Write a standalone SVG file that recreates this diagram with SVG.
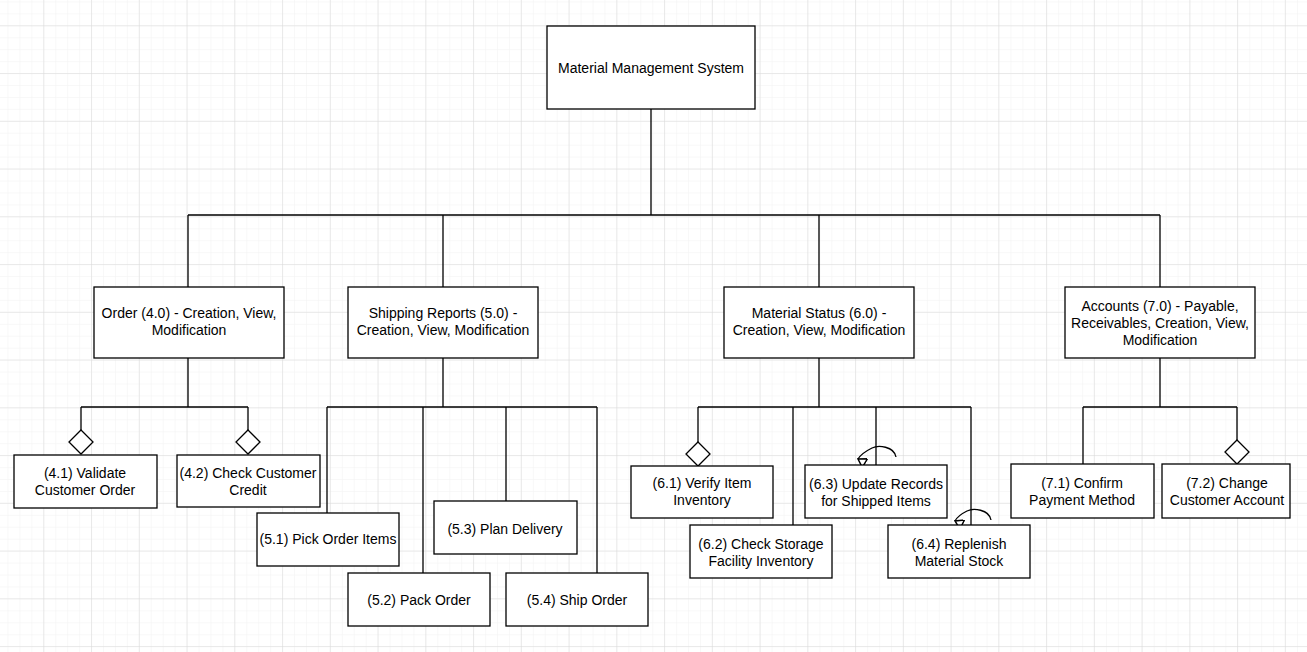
<svg xmlns="http://www.w3.org/2000/svg" width="1307" height="652" viewBox="0 0 1307 652">
<defs>
<pattern id="minor" x="43.3" y="25.3" width="11.94" height="11.94" patternUnits="userSpaceOnUse"><path d="M0 0H11.94M0 0V11.94" fill="none" stroke="#f2f2f2" stroke-width="1"/></pattern>
<pattern id="major" x="43.3" y="25.3" width="47.75" height="47.75" patternUnits="userSpaceOnUse"><path d="M0 0H47.75M0 0V47.75" fill="none" stroke="#d9d9d9" stroke-width="1"/></pattern>
<marker id="tri" viewBox="0 0 10 10" refX="5" refY="9" markerWidth="10" markerHeight="10" orient="auto" markerUnits="userSpaceOnUse"><path d="M0 1L10 1L5 9Z" fill="#fff" stroke="#000" stroke-width="1.5"/></marker>
</defs>
<style>
rect.n{fill:#fff;stroke:#000;stroke-width:1.3}
text{font-family:"Liberation Sans",Arial,sans-serif;font-size:14px;fill:#000;text-anchor:middle}
#connectors path{fill:none;stroke:#000;stroke-width:1.3}
#connectors path.d{fill:#fff}
</style>
<rect width="1307" height="652" fill="#fff"/>
<rect width="1307" height="652" fill="url(#minor)"/>
<rect width="1307" height="652" fill="url(#major)"/>
<g id="connectors">
<path d="M651 109V215M188 215H1160M188 215V287M443 215V287M819 215V287M1160 215V287"/>
<path d="M188 358V407M81 407H248M81 407V430M248 407V430"/>
<path class="d" d="M81 430L93 442L81 454L69 442Z"/>
<path class="d" d="M248 430L260 442L248 454L236 442Z"/>
<path d="M443 358V407M327 407H597M327 407V513M423 407V573M506 407V501M597 407V573"/>
<path d="M819 358V407M698 407H971M698 407V442M793 407V525M876 407V465M971 407V525"/>
<path class="d" d="M698 442L710 454L698 466L686 454Z"/>
<path d="M896 457C894 446 878 445 872 448C866 451 861 454 858 459" marker-end="url(#tri)"/>
<path d="M991 520C989 509 973 508 967 511C961 514 957 517 955 521" marker-end="url(#tri)"/>
<path d="M1160 358V407M1083 407H1237M1083 407V464M1237 407V440"/>
<path class="d" d="M1237 440L1249 452L1237 464L1225 452Z"/>
</g>
<g id="root"><rect class="n" x="547" y="26" width="208" height="83"/><text x="651" y="73">Material Management System</text></g>
<g id="n4"><rect class="n" x="94" y="287" width="190" height="71"/><text x="189" y="318">Order (4.0) - Creation, View,</text><text x="189" y="335">Modification</text></g>
<g id="n5"><rect class="n" x="348" y="287" width="190" height="71"/><text x="443" y="318">Shipping Reports (5.0) -</text><text x="443" y="335">Creation, View, Modification</text></g>
<g id="n6"><rect class="n" x="724" y="287" width="190" height="71"/><text x="819" y="318">Material Status (6.0) -</text><text x="819" y="335">Creation, View, Modification</text></g>
<g id="n7"><rect class="n" x="1065" y="287" width="190" height="71"/><text x="1160" y="311">Accounts (7.0) - Payable,</text><text x="1160" y="328">Receivables, Creation, View,</text><text x="1160" y="345">Modification</text></g>
<g id="n41"><rect class="n" x="14" y="455" width="143" height="53"/><text x="85" y="478">(4.1) Validate</text><text x="85" y="495">Customer Order</text></g>
<g id="n42"><rect class="n" x="177" y="455" width="143" height="52"/><text x="248" y="478">(4.2) Check Customer</text><text x="248" y="495">Credit</text></g>
<g id="n51"><rect class="n" x="257" y="513" width="142" height="53"/><text x="328" y="544">(5.1) Pick Order Items</text></g>
<g id="n52"><rect class="n" x="348" y="573" width="142" height="53"/><text x="419" y="605">(5.2) Pack Order</text></g>
<g id="n53"><rect class="n" x="434" y="501" width="143" height="53"/><text x="505" y="534">(5.3) Plan Delivery</text></g>
<g id="n54"><rect class="n" x="506" y="573" width="142" height="53"/><text x="577" y="605">(5.4) Ship Order</text></g>
<g id="n61"><rect class="n" x="631" y="466" width="142" height="52"/><text x="702" y="488">(6.1) Verify Item</text><text x="702" y="505">Inventory</text></g>
<g id="n62"><rect class="n" x="690" y="525" width="142" height="53"/><text x="761" y="549">(6.2) Check Storage</text><text x="761" y="566">Facility Inventory</text></g>
<g id="n63"><rect class="n" x="805" y="465" width="142" height="53"/><text x="876" y="489">(6.3) Update Records</text><text x="876" y="506">for Shipped Items</text></g>
<g id="n64"><rect class="n" x="888" y="525" width="142" height="53"/><text x="959" y="549">(6.4) Replenish</text><text x="959" y="566">Material Stock</text></g>
<g id="n71"><rect class="n" x="1011" y="464" width="143" height="54"/><text x="1082" y="488">(7.1) Confirm</text><text x="1082" y="505">Payment Method</text></g>
<g id="n72"><rect class="n" x="1162" y="464" width="128" height="54"/><text x="1227" y="488">(7.2) Change</text><text x="1227" y="505">Customer Account</text></g>
</svg>
